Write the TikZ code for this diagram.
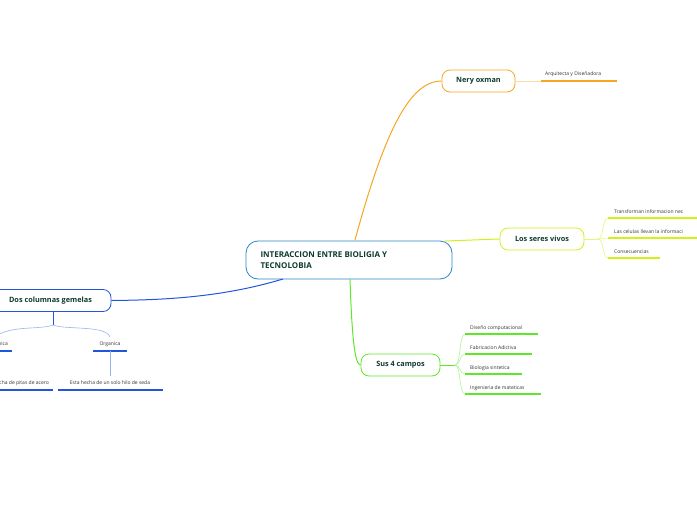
\documentclass[tikz,border=0pt]{standalone}
\usepackage{fontspec}
\setmainfont{Open Sans}
\definecolor{orng}{HTML}{F5A623}
\definecolor{ylw}{HTML}{D4F01A}
\definecolor{grn}{HTML}{5FE82A}
\definecolor{blu}{HTML}{2255DD}
\definecolor{cen}{HTML}{2A86C8}
\definecolor{dtxt}{HTML}{0D3B2E}
\begin{document}
\begin{tikzpicture}[x=1pt,y=-1pt,
  topic/.style={draw=#1,line width=0.8pt,rounded corners=8pt,fill=white,font=\fontsize{7.3}{8}\selectfont\bfseries,text=dtxt,inner sep=0pt},
  leaf/.style={font=\fontsize{5}{5}\selectfont,text=black!80,anchor=west,inner sep=0pt},
  ul/.style={draw=#1,line width=1.2pt}]
\useasboundingbox (0,0) rectangle (697,520);
\clip (0,0) rectangle (697,520);
% central
\node[draw=cen,line width=0.8pt,rounded corners=12pt,minimum width=206pt,minimum height=38pt,fill=white] (c) at (349,260) {};
\node[font=\fontsize{8}{11}\selectfont\bfseries,text=dtxt,align=left,anchor=west] (ct) at (257,260) {INTERACCION ENTRE BIOLIGIA Y\\TECNOLOBIA};
% Nery oxman
\node[topic=orng,minimum width=73pt,minimum height=22pt] (n) at (478.5,81) {Nery oxman};
\draw[orng,line width=1pt] (355,240) .. controls (385,130) and (410,81) .. (n.west);
\node[leaf] (n1) at (545,74) {Arquitecta y Diseñadora};
\coordinate (n1a) at (541,81);\coordinate (n1b) at (617,81);
\draw[orng!40,line width=1pt] (n.east) -- (n1a);
\draw[ul=orng] (n1a) -- (n1b);
% Los seres vivos
\node[topic=ylw,minimum width=84pt,minimum height=22pt] (s) at (542,239) {Los seres vivos};
\draw[ylw,line width=1pt] (445,241) -- (s.west);
\coordinate (sj) at (598,239);
\draw[ylw!60,line width=0.6pt] (s.east) -- (sj);
\foreach \y/\t/\e in {212/Transforman informacion nec/697,232/Las celulas llevan la informaci/697,252/Consecuencias/660}{
  \node[leaf] at (614,\y) {\t};
  \draw[ylw!60,line width=0.6pt] (sj) .. controls (604,239) and (602,\y+6) .. (608,\y+6);
  \draw[ul=ylw] (608,\y+6) -- (\e,\y+6);
}
% Sus 4 campos
\node[topic=grn,minimum width=79pt,minimum height=22pt] (g) at (400.5,365) {Sus 4 campos};
\draw[grn,line width=1pt] (350,279) .. controls (352,340) and (355,365) .. (g.west);
\coordinate (gj) at (455,365);
\draw[grn,line width=0.8pt] (g.east) -- (gj);
\foreach \y/\t/\e in {328/Diseño computacional/538,348/Fabricacion Adictiva/532,368/Biologia sintetica/522,388/Ingenieria de mateticas/541}{
  \node[leaf] at (470,\y) {\t};
  \draw[grn!50,line width=0.6pt] (gj) .. controls (461,365) and (459,\y+6) .. (465,\y+6);
  \draw[ul=grn] (465,\y+6) -- (\e,\y+6);
}
% Dos columnas gemelas
\node[topic=blu,minimum width=121pt,minimum height=22pt] (d) at (50.5,300.5) {Dos columnas gemelas};
\draw[blu,line width=1pt] (283,279) .. controls (220,298) and (160,300) .. (d.east);
\coordinate (dj) at (53,325);
\draw[blu,line width=0.6pt] (d.south -| dj) -- (dj);
\draw[blu!45,line width=0.6pt] (dj) .. controls (40,330) and (10,325) .. (-5,337);
\draw[blu!45,line width=0.6pt] (dj) .. controls (66,330) and (106,325) .. (110,337);
\node[font=\fontsize{5}{5}\selectfont,text=black!80,anchor=east,inner sep=0pt] (m) at (8,344) {Mecanica};
\draw[ul=blu] (-20,351) -- (12,351);
\node[font=\fontsize{5}{5}\selectfont,text=black!80,inner sep=0pt] (o) at (110,344) {Organica};
\draw[ul=blu] (93,351) -- (127,351);
\node[font=\fontsize{5}{5}\selectfont,text=black!80,anchor=east,inner sep=0pt] (m1) at (49,383) {Esta hecha de pitas de acero};
\draw[ul=blu] (-30,390) -- (53,390);
\node[font=\fontsize{5}{5}\selectfont,text=black!80,inner sep=0pt] (o1) at (110,383) {Esta hecha de un solo hilo de seda};
\draw[blu!45,line width=0.6pt] (110,351) -- (110,376);
\draw[ul=blu] (58,390) -- (163,390);
\end{tikzpicture}
\end{document}
